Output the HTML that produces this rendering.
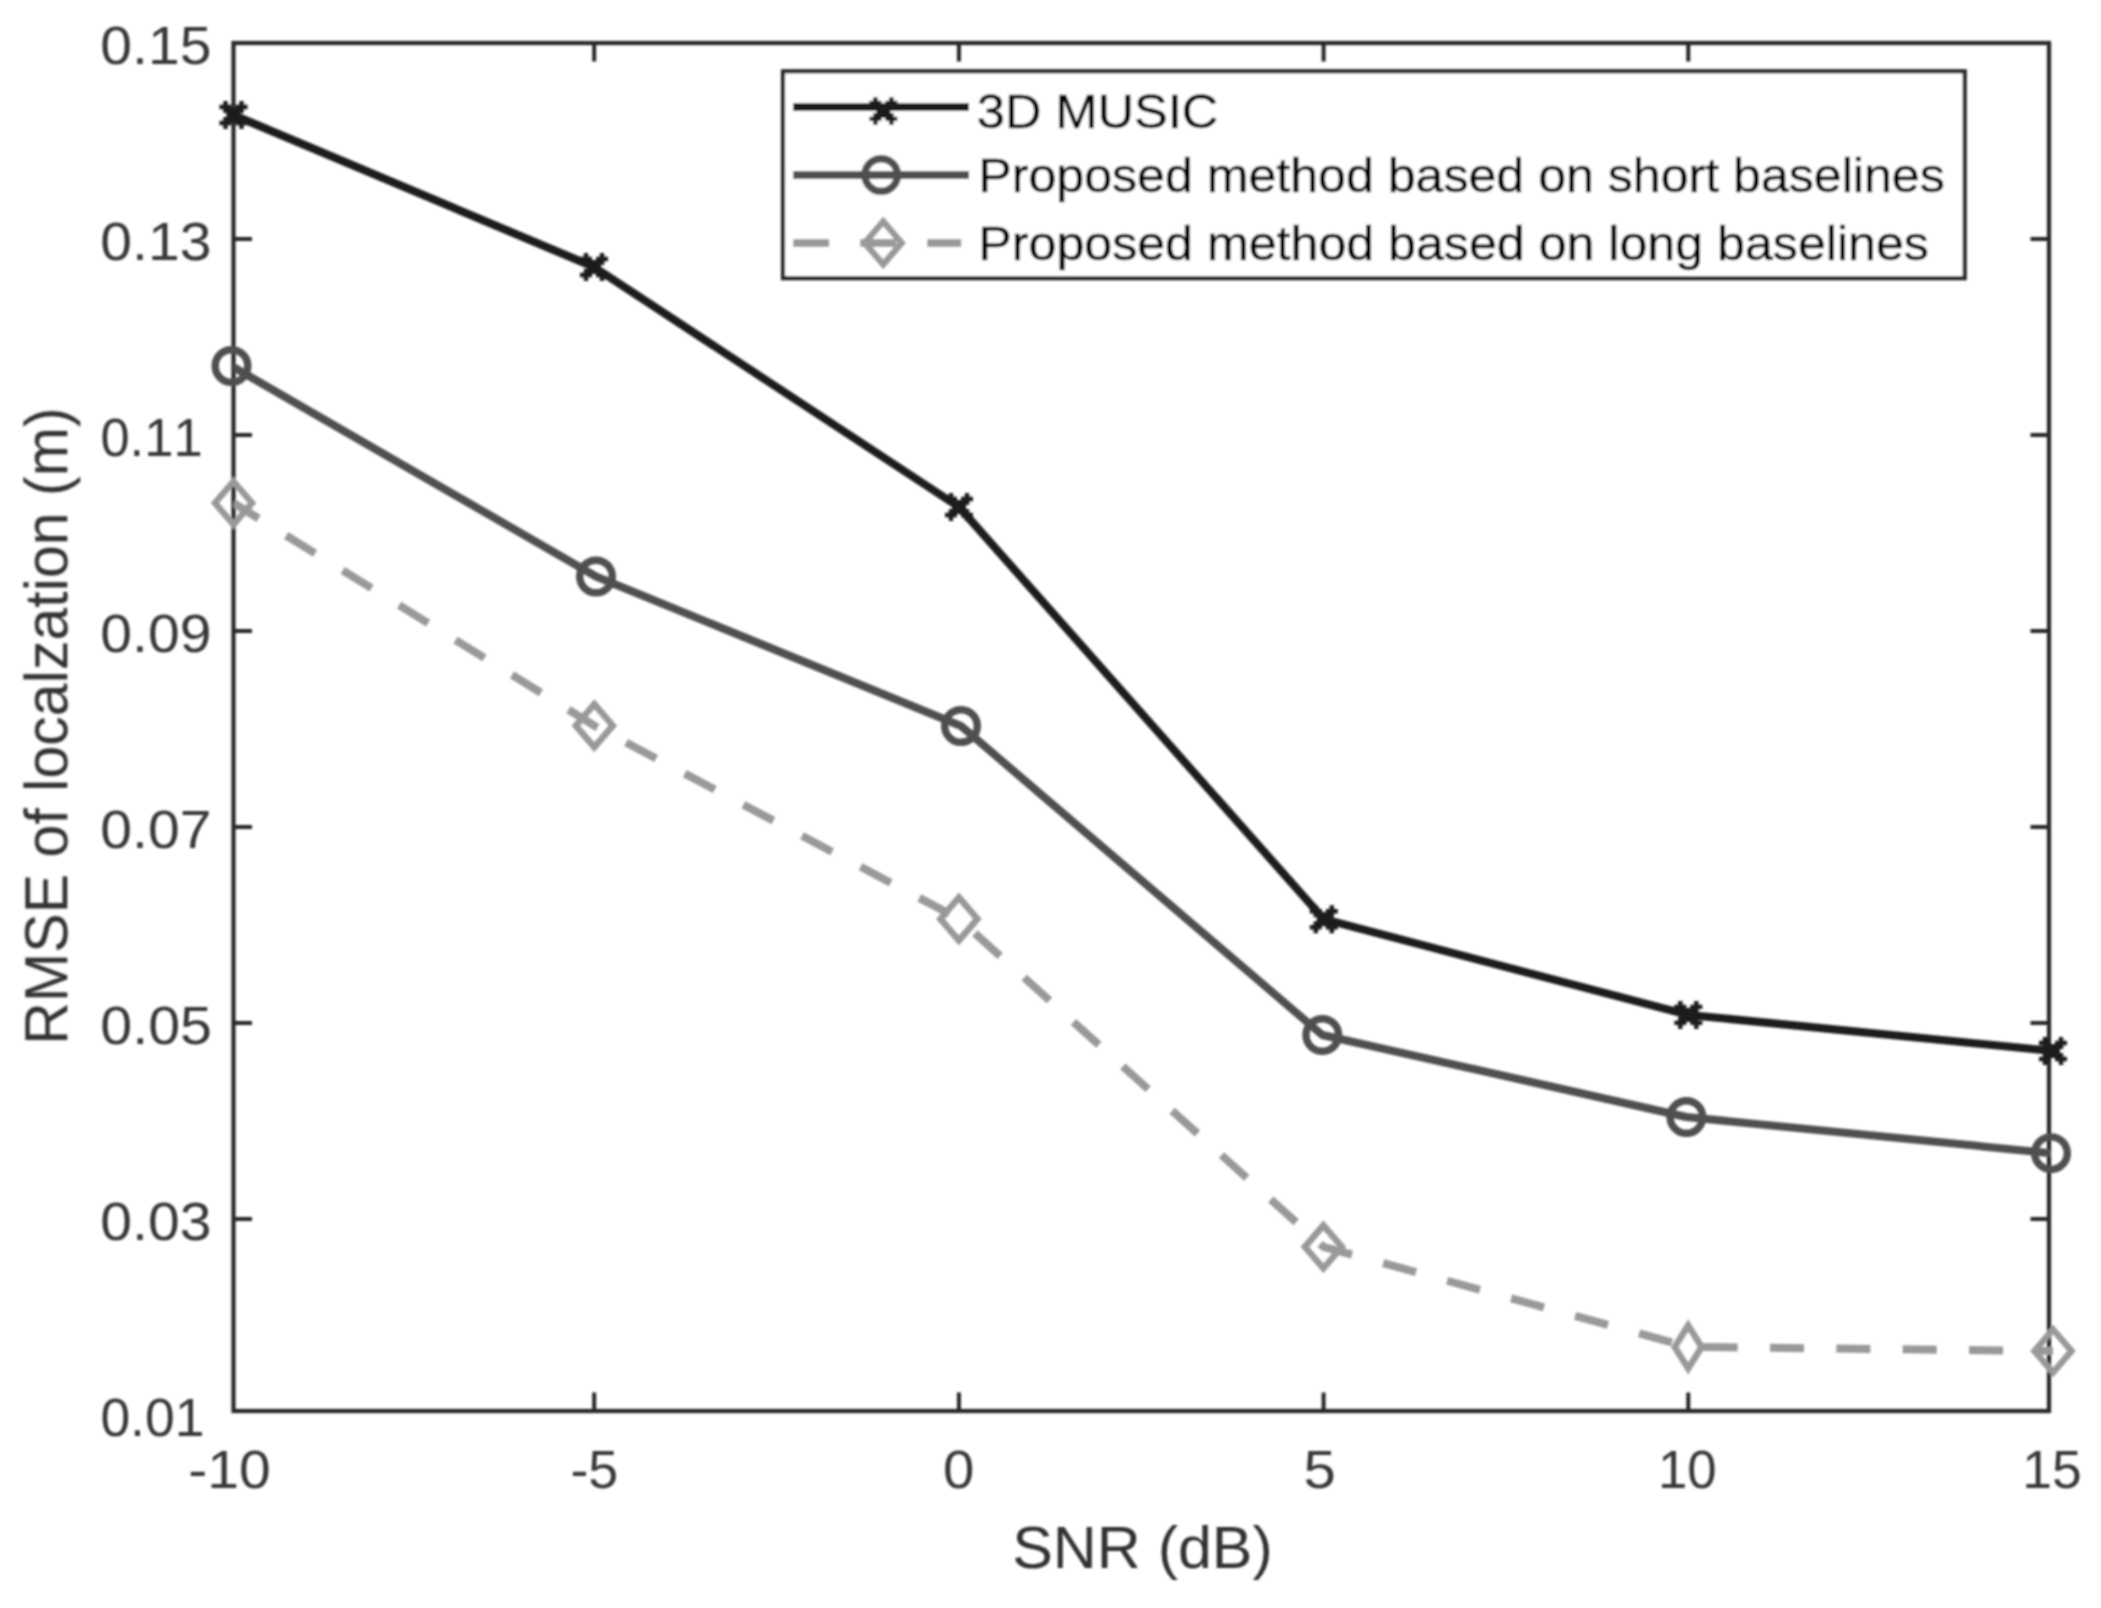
<!DOCTYPE html>
<html lang="en"><head><meta charset="utf-8"><title>RMSE of localization versus SNR</title>
<style>
html,body{margin:0;padding:0;background:#fff;}
body{width:2101px;height:1608px;overflow:hidden;}
svg{display:block;}
text{font-family:"Liberation Sans",Arial,Helvetica,sans-serif;font-kerning:none;}
</style></head><body>
<svg width="2101" height="1608" viewBox="0 0 2101 1608">
<defs><filter id="soft" x="0" y="0" width="2101" height="1608" filterUnits="userSpaceOnUse"><feGaussianBlur stdDeviation="0.9"/></filter>
<clipPath id="plotclip"><rect x="233.5" y="43.0" width="1821.5" height="1368.0"/></clipPath></defs>
<rect x="0" y="0" width="2101" height="1608" fill="#fff"/>
<g id="chart" filter="url(#soft)">
<rect x="233.5" y="43.0" width="1815.5" height="1368.0" fill="none" stroke="#262626" stroke-width="4.2"/>
<path d="M594.2 1411.0V1392.5M594.2 43.0V61.5M958.9 1411.0V1392.5M958.9 43.0V61.5M1323.6 1411.0V1392.5M1323.6 43.0V61.5M1688.3 1411.0V1392.5M1688.3 43.0V61.5M233.5 239.0H252.0M2049.0 239.0H2030.5M233.5 435.0H252.0M2049.0 435.0H2030.5M233.5 631.0H252.0M2049.0 631.0H2030.5M233.5 827.0H252.0M2049.0 827.0H2030.5M233.5 1023.0H252.0M2049.0 1023.0H2030.5M233.5 1219.0H252.0M2049.0 1219.0H2030.5" stroke="#262626" stroke-width="4" fill="none"/>
<g clip-path="url(#plotclip)">
<polyline points="233.5,503.0 594.3,725.7 958.9,918.9 1323.4,1246.8 1688.2,1346.9 2053.0,1351.0" fill="none" stroke="#999999" stroke-width="8.0" stroke-linejoin="round" stroke-dasharray="34 32.35" stroke-dashoffset="4.45"/>
<polyline points="231.5,366.0 596.0,576.5 961.0,726.0 1322.3,1035.0 1686.4,1117.0 2051.0,1153.2" fill="none" stroke="#505050" stroke-width="8.0" stroke-linejoin="round" />
<polyline points="233.5,115.0 594.0,267.0 959.0,507.0 1323.8,919.2 1688.3,1014.9 2053.0,1051.0" fill="none" stroke="#1a1a1a" stroke-width="8.0" stroke-linejoin="round" />
</g>
<path d="M233.5 481.5L252.0 503.0L233.5 524.5L215.0 503.0Z" fill="none" stroke="#999999" stroke-width="6.5" stroke-linejoin="miter"/>
<path d="M594.3 704.2L612.8 725.7L594.3 747.2L575.8 725.7Z" fill="none" stroke="#999999" stroke-width="6.5" stroke-linejoin="miter"/>
<path d="M958.9 897.4L977.4 918.9L958.9 940.4L940.4 918.9Z" fill="none" stroke="#999999" stroke-width="6.5" stroke-linejoin="miter"/>
<path d="M1323.4 1225.3L1341.9 1246.8L1323.4 1268.3L1304.9 1246.8Z" fill="none" stroke="#999999" stroke-width="6.5" stroke-linejoin="miter"/>
<path d="M1688.2 1325.4L1701.7 1346.9L1688.2 1368.4L1674.7 1346.9Z" fill="none" stroke="#999999" stroke-width="6.5" stroke-linejoin="miter"/>
<path d="M2053.0 1329.5L2071.5 1351.0L2053.0 1372.5L2034.5 1351.0Z" fill="none" stroke="#999999" stroke-width="6.5" stroke-linejoin="miter"/>
<circle cx="231.5" cy="366.0" r="16.3" fill="none" stroke="#505050" stroke-width="7.4"/>
<circle cx="596.0" cy="576.5" r="16.3" fill="none" stroke="#505050" stroke-width="7.4"/>
<circle cx="961.0" cy="726.0" r="16.3" fill="none" stroke="#505050" stroke-width="7.4"/>
<circle cx="1322.3" cy="1035.0" r="16.3" fill="none" stroke="#505050" stroke-width="7.4"/>
<circle cx="1686.4" cy="1117.0" r="16.3" fill="none" stroke="#505050" stroke-width="7.4"/>
<circle cx="2051.0" cy="1153.2" r="16.3" fill="none" stroke="#505050" stroke-width="7.4"/>
<rect x="226.5" y="108.0" width="14" height="14" fill="#1a1a1a"/><path d="M219.5 107.0h12M225.5 101.0v12M219.5 123.0h12M225.5 117.0v12M235.5 107.0h12M241.5 101.0v12M235.5 123.0h12M241.5 117.0v12" stroke="#1a1a1a" stroke-width="4.4" fill="none"/>
<rect x="587.0" y="260.0" width="14" height="14" fill="#1a1a1a"/><path d="M580.0 259.0h12M586.0 253.0v12M580.0 275.0h12M586.0 269.0v12M596.0 259.0h12M602.0 253.0v12M596.0 275.0h12M602.0 269.0v12" stroke="#1a1a1a" stroke-width="4.4" fill="none"/>
<rect x="952.0" y="500.0" width="14" height="14" fill="#1a1a1a"/><path d="M945.0 499.0h12M951.0 493.0v12M945.0 515.0h12M951.0 509.0v12M961.0 499.0h12M967.0 493.0v12M961.0 515.0h12M967.0 509.0v12" stroke="#1a1a1a" stroke-width="4.4" fill="none"/>
<rect x="1316.8" y="912.2" width="14" height="14" fill="#1a1a1a"/><path d="M1309.8 911.2h12M1315.8 905.2v12M1309.8 927.2h12M1315.8 921.2v12M1325.8 911.2h12M1331.8 905.2v12M1325.8 927.2h12M1331.8 921.2v12" stroke="#1a1a1a" stroke-width="4.4" fill="none"/>
<rect x="1681.3" y="1007.9" width="14" height="14" fill="#1a1a1a"/><path d="M1674.3 1006.9h12M1680.3 1000.9v12M1674.3 1022.9h12M1680.3 1016.9v12M1690.3 1006.9h12M1696.3 1000.9v12M1690.3 1022.9h12M1696.3 1016.9v12" stroke="#1a1a1a" stroke-width="4.4" fill="none"/>
<rect x="2046.0" y="1044.0" width="14" height="14" fill="#1a1a1a"/><path d="M2039.0 1043.0h12M2045.0 1037.0v12M2039.0 1059.0h12M2045.0 1053.0v12M2055.0 1043.0h12M2061.0 1037.0v12M2055.0 1059.0h12M2061.0 1053.0v12" stroke="#1a1a1a" stroke-width="4.4" fill="none"/>
<rect x="783" y="71.3" width="1181.7" height="206.89999999999998" fill="#fff" stroke="#262626" stroke-width="4.2"/>
<line x1="793.2" y1="106.9" x2="969" y2="106.9" stroke="#1a1a1a" stroke-width="8"/>
<rect x="876.4" y="103.9" width="14" height="14" fill="#1a1a1a"/><path d="M869.4 102.9h12M875.4 96.9v12M869.4 118.9h12M875.4 112.9v12M885.4 102.9h12M891.4 96.9v12M885.4 118.9h12M891.4 112.9v12" stroke="#1a1a1a" stroke-width="4.4" fill="none"/>
<line x1="793.2" y1="175" x2="969" y2="175" stroke="#505050" stroke-width="8"/>
<circle cx="881.2" cy="175.0" r="16.3" fill="none" stroke="#505050" stroke-width="7.4"/>
<line x1="793.2" y1="243" x2="961.2" y2="243" stroke="#999999" stroke-width="8" stroke-dasharray="36 31"/>
<path d="M883.2 221.4L901.7 242.9L883.2 264.4L864.7 242.9Z" fill="none" stroke="#999999" stroke-width="6.5" stroke-linejoin="miter"/>
<text transform="translate(100.32,64.0) scale(1.0772,1)" font-size="53" fill="#383838">0.15</text>
<text transform="translate(100.32,260.0) scale(1.0772,1)" font-size="53" fill="#383838">0.13</text>
<text transform="translate(100.41,456.0) scale(0.9911,1)" font-size="53" fill="#383838">0.11</text>
<text transform="translate(100.32,652.0) scale(1.0772,1)" font-size="53" fill="#383838">0.09</text>
<text transform="translate(100.32,848.0) scale(1.0772,1)" font-size="53" fill="#383838">0.07</text>
<text transform="translate(100.32,1044.0) scale(1.0822,1)" font-size="53" fill="#383838">0.05</text>
<text transform="translate(100.32,1240.0) scale(1.0772,1)" font-size="53" fill="#383838">0.03</text>
<text transform="translate(100.39,1436.0) scale(1.0089,1)" font-size="53" fill="#383838">0.01</text>
<text transform="translate(188.22,1487.6) scale(1.0760,1)" font-size="53" fill="#383838">-10</text>
<text transform="translate(570.49,1487.6) scale(1.0133,1)" font-size="53" fill="#383838">-5</text>
<text transform="translate(942.94,1487.6) scale(1.0643,1)" font-size="53" fill="#383838">0</text>
<text transform="translate(1303.61,1487.6) scale(1.0962,1)" font-size="53" fill="#383838">5</text>
<text transform="translate(1657.91,1487.6) scale(0.9964,1)" font-size="53" fill="#383838">10</text>
<text transform="translate(2022.27,1487.6) scale(1.0091,1)" font-size="53" fill="#383838">15</text>
<text transform="translate(1012.17,1567.5) scale(1.0151,1)" font-size="60" fill="#333333">SNR (dB)</text>
<text transform="translate(976.85,128.3) scale(1.0533,1)" font-size="48" fill="#000000" stroke="#000" stroke-width="0.5">3D MUSIC</text>
<text transform="translate(978.37,191.8) scale(1.0441,1)" font-size="48" fill="#000000" stroke="#000" stroke-width="0.5">Proposed method based on short baselines</text>
<text transform="translate(978.37,260.1) scale(1.0447,1)" font-size="48" fill="#000000" stroke="#000" stroke-width="0.5">Proposed method based on long baselines</text>
<text transform="translate(67.3,1044.82) rotate(-90) scale(0.9539,1)" font-size="62" fill="#333333">RMSE of localzation (m)</text>
</g>
</svg></body></html>
